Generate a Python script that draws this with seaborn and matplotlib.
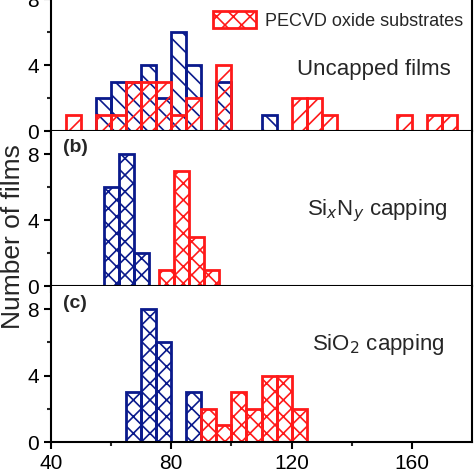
import numpy as np
import matplotlib
matplotlib.use("Agg")
import matplotlib.pyplot as plt
import seaborn as sns
from matplotlib.patches import Patch

# bin left edges and counts (bin width 5)
a_blue_left = [55, 60, 65, 70, 75, 80, 85, 95, 110]
a_blue_n = [2, 3, 3, 4, 2, 6, 4, 3, 1]
a_red_left = [45, 55, 60, 65, 70, 75, 80, 85, 95, 120, 125, 130, 155, 165, 170]
a_red_n = [1, 1, 1, 3, 3, 3, 1, 2, 4, 2, 2, 1, 1, 1, 1]

b_blue_left = [57.5, 62.5, 67.5]
b_blue_n = [6, 8, 2]
b_red_left = [76, 81, 86, 91]
b_red_n = [1, 7, 3, 1]

c_blue_left = [65, 70, 75, 85]
c_blue_n = [3, 8, 6, 3]
c_red_left = [90, 95, 100, 105, 110, 115, 120]
c_red_n = [2, 1, 3, 2, 4, 4, 2]

BLUE = "#0a1a8c"
RED = "#ff1a1a"

sns.set_style("ticks")
plt.rcParams["font.family"] = ["Liberation Sans", "DejaVu Sans"]
plt.rcParams["hatch.linewidth"] = 1.2

fig = plt.figure(figsize=(4.74, 4.74), dpi=100)
W, H = 474, 474
def box(top, bottom):
    return [51 / W, 1 - bottom / H, (472 - 51) / W, (bottom - top) / H]

axes = [fig.add_axes(box(-24, 131)), fig.add_axes(box(131, 286)), fig.add_axes(box(286, 442))]


def hist(ax, lefts, counts, color, hatch):
    lefts = np.array(lefts, dtype=float)
    n0 = len(ax.patches)
    sns.histplot(x=lefts + 2.5, weights=counts, binwidth=5,
                 binrange=(lefts.min(), lefts.max() + 5), ax=ax,
                 fill=False, linewidth=2, element="bars")
    for p in ax.patches[n0:]:
        p.set_edgecolor(color)
        p.set_facecolor("none")
        p.set_hatch(hatch)
        if p.get_height() == 0:
            p.set_visible(False)


hist(axes[0], a_blue_left, a_blue_n, BLUE, "\\\\")
hist(axes[0], a_red_left, a_red_n, RED, "//")
hist(axes[1], b_blue_left, b_blue_n, BLUE, "xx")
hist(axes[1], b_red_left, b_red_n, RED, "xx")
hist(axes[2], c_blue_left, c_blue_n, BLUE, "xx")
hist(axes[2], c_red_left, c_red_n, RED, "xx")

for i, ax in enumerate(axes):
    ax.set_xlim(40, 180)
    ax.set_ylim(0, 9.4)
    ax.set_yticks([0, 4, 8])
    ax.set_yticks([2, 6], minor=True)
    ax.set_xticks([40, 80, 120, 160])
    ax.set_xticks([60, 100, 140], minor=True)
    ax.set_ylabel("")
    ax.set_xlabel("")
    for s in ax.spines.values():
        s.set_linewidth(1.5)
        s.set_color("black")
    ax.spines["top"].set_visible(False)
    ax.tick_params(which="major", length=5, width=1.5, labelsize=15, colors="black")
    ax.tick_params(which="minor", length=3, width=1.5)
    if i < 2:
        ax.tick_params(axis="x", labelbottom=False)

axes[0].text(44, 8.5, "(a)", fontsize=14, fontweight="bold")
axes[1].text(44, 8.1, "(b)", fontsize=14, fontweight="bold")
axes[2].text(44, 8.1, "(c)", fontsize=14, fontweight="bold")
axes[0].text(173, 3.7, "Uncapped films", fontsize=16, ha="right", va="center")
axes[1].text(172, 4.6, "Si$_x$N$_y$ capping", fontsize=16, ha="right", va="center")
axes[2].text(171, 5.9, "SiO$_2$ capping", fontsize=16, ha="right", va="center")

axes[0].legend(handles=[Patch(facecolor="none", edgecolor=RED, linewidth=2, hatch="\\\\//",
                              label="PECVD oxide substrates")],
               loc="upper right", bbox_to_anchor=(1.0, 1.0), frameon=False,
               fontsize=13, handlelength=2.4, handleheight=1.1, borderaxespad=0.2,
               handletextpad=0.5, bbox_transform=fig.transFigure)

fig.text(0.028, 0.5, "Number of films", rotation=90, fontsize=19, va="center", ha="center")

fig.savefig("out.png", dpi=100)
